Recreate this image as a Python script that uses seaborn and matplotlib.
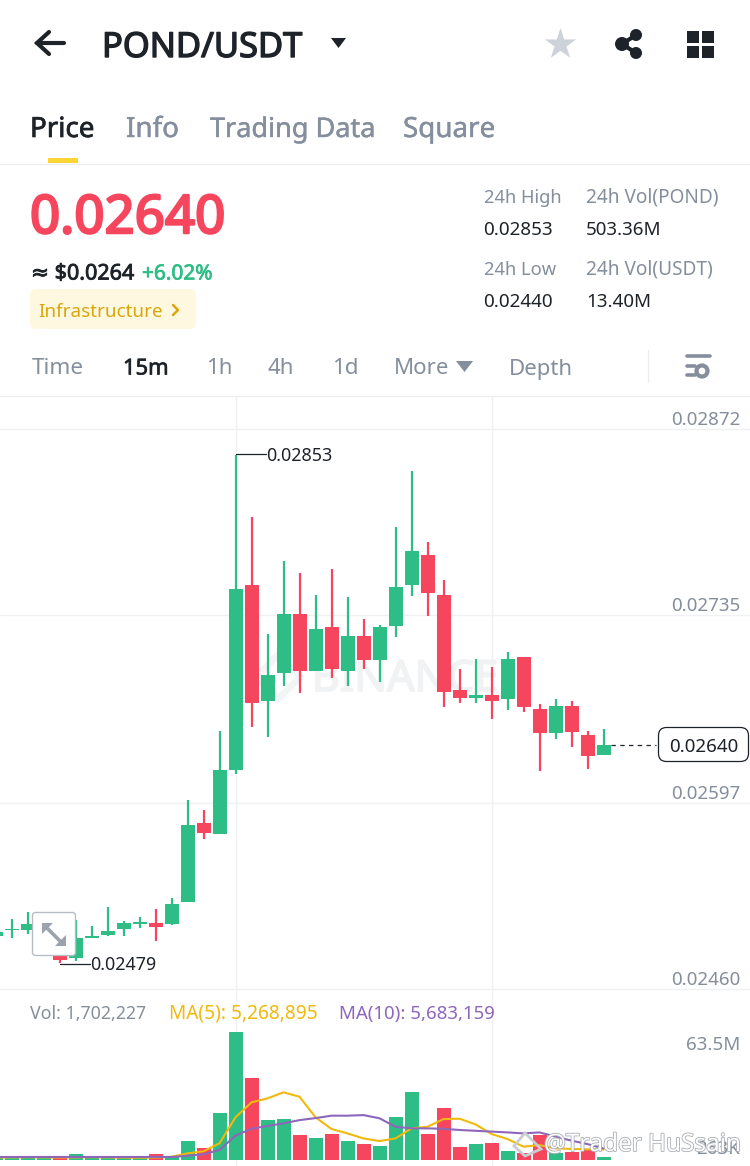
import matplotlib
matplotlib.use("Agg")
import matplotlib.pyplot as plt
import matplotlib.patheffects as pe
from matplotlib.patches import FancyBboxPatch, Polygon, Circle, Rectangle
import numpy as np
import pandas as pd
import seaborn as sns

sns.set_theme(style="white")
plt.rcParams['font.family'] = ['Noto Sans', 'DejaVu Sans']

# ---------- data ----------
opens = [0.024990,0.025034,0.025034,0.024997,0.024850,0.024830,0.024978,0.024997,0.025039,0.025080,0.025088,0.025080,
         0.025240,0.025819,0.025740,0.026209,0.027570,0.026721,0.026923,0.027361,0.026942,0.027261,0.026942,0.027199,
         0.027021,0.027271,0.027572,0.027791,0.027501,0.026800,0.026743,0.026761,0.026734,0.027040,0.026660,0.026483,
         0.026680,0.026469,0.026322]
closes = [0.025019,0.025044,0.025078,0.025071,0.024817,0.024978,0.024990,0.025027,0.025088,0.025091,0.025058,0.025225,
          0.025807,0.025750,0.026209,0.027543,0.026702,0.026910,0.027361,0.026942,0.027251,0.026954,0.027199,0.027021,
          0.027261,0.027560,0.027822,0.027513,0.026783,0.026743,0.026761,0.026721,0.027030,0.026673,0.026483,0.026680,
          0.026493,0.026312,0.026397]
highs = [0.025064,0.025115,0.025167,0.025122,0.024887,0.025108,0.025066,0.025206,0.025098,0.025128,0.025186,0.025267,
         0.025991,0.025917,0.026498,0.028530,0.028070,0.027210,0.027751,0.027661,0.027499,0.027690,0.027482,0.027322,
         0.027278,0.028001,0.028411,0.027891,0.027609,0.026952,0.027030,0.026971,0.027077,0.027040,0.026697,0.026731,
         0.026719,0.026498,0.026511]
lows = [0.024961,0.024975,0.025005,0.024924,0.024790,0.024808,0.024978,0.024990,0.024990,0.025049,0.024951,0.025069,
        0.025240,0.025701,0.025740,0.026182,0.026530,0.026452,0.026831,0.026776,0.026942,0.026890,0.026831,0.026952,
        0.026861,0.027192,0.027494,0.027344,0.026673,0.026702,0.026702,0.026584,0.026653,0.026640,0.026204,0.026442,
        0.026383,0.026221,0.026322]
volumes_m = [2.1,1.3,1.3,0.8,1.7,3.0,0.8,1.3,0.8,0.8,3.0,1.7,9.4,5.8,23.3,63.5,40.7,19.7,20.3,12.4,11.1,12.9,9.4,7.8,
             6.8,21.5,33.6,13.1,25.6,6.3,8.1,8.3,4.5,3.6,12.2,3.6,4.1,5.6,1.7]
ma5_m = [1.2,1.3,1.4,1.3,1.2,1.3,1.4,1.3,1.2,1.1,1.2,1.6,3.3,4.3,8.3,21.2,28.6,30.6,33.6,31.4,21.2,15.4,13.2,10.7,
         9.4,10.7,15.7,16.5,20.3,20.5,17.7,12.9,10.4,6.6,7.4,5.8,5.5,5.3,5.27]
ma10_m = [1.5,1.5,1.5,1.5,1.5,1.5,1.5,1.5,1.5,1.5,1.5,1.5,2.1,2.8,5.0,12.1,15.5,16.9,18.2,19.8,20.8,22.0,22.0,22.3,
          20.7,16.5,15.7,15.7,15.5,14.9,14.5,14.1,13.7,13.2,13.7,11.6,9.6,7.9,5.68]
price_ticks = [0.02872, 0.02735, 0.02597, 0.02460]
price_tick_labels = ["0.02872", "0.02735", "0.02597", "0.02460"]

GREEN, RED = "#2EBD85", "#F6465D"
GRAY, DARK = "#848E9C", "#1E2329"
GRID = "#F0F1F3"
W, H = 750, 1166

df = pd.DataFrame({"i": np.arange(len(opens)), "open": opens, "close": closes, "high": highs, "low": lows,
                   "vol": volumes_m, "ma5": ma5_m, "ma10": ma10_m})
df["dir"] = np.where(df["close"] >= df["open"], "up", "down")
pal = {"up": GREEN, "down": RED}

fig = plt.figure(figsize=(W / 100, H / 100), dpi=100, facecolor="white")


def frame(top, bottom):
    return [0, 1 - bottom / H, 1, (bottom - top) / H]


# background layer (watermark)
bg = fig.add_axes([0, 0, 1, 1], zorder=0)
bg.set_xlim(0, W); bg.set_ylim(H, 0); bg.axis("off")
bg.text(405, 680, "BINANCE", fontsize=31, color="#F1F2F3", ha="center", va="center",
        path_effects=[pe.withStroke(linewidth=1.2, foreground="#F1F2F3")])
bg.add_patch(Polygon([(278, 655), (300, 677), (278, 699), (256, 677)], closed=True, fill=False, ec="#F3F4F5", lw=5))

# x-axis: candle index mapped so that one candle takes 16 px
xlim = (0.28125, 47.15625)

# ---------- price panel ----------
ax = fig.add_axes(frame(396, 989), zorder=1)
ax.patch.set_alpha(0)
ax.set_xlim(*xlim)
ax.set_ylim(0.0246, 0.028963)
for s in ax.spines.values():
    s.set_visible(False)
ax.set_xticks([15, 31])
ax.set_yticks(price_ticks)
ax.set_xticklabels([]); ax.set_yticklabels([])
ax.tick_params(length=0)
ax.grid(True, color=GRID, lw=1)
for g in ax.get_ygridlines():
    g.set_clip_on(False)
ax.set_axisbelow(True)
for p, l in zip(price_ticks, price_tick_labels):
    ax.annotate(l, xy=(1, p), xycoords=("axes fraction", "data"), xytext=(-10, 0), textcoords="offset pixels",
                ha="right", va="bottom", color=GRAY, fontsize=13.5)

wick_colors = [pal[d] for d in df["dir"]]
ax.vlines(df["i"], df["low"], df["high"], colors=wick_colors, lw=1.6, zorder=2)
ax.bar(df["i"], (df["close"] - df["open"]).abs(), bottom=df[["open", "close"]].min(axis=1), width=0.875,
       color=wick_colors, zorder=3, linewidth=0)

# ---------- volume panel ----------
vax = fig.add_axes(frame(990, H), zorder=1)
vax.patch.set_alpha(0)
sns.barplot(data=df, x="i", y="vol", hue="dir", palette=pal, native_scale=True, dodge=False, width=0.875,
            saturation=1, legend=False, ax=vax, linewidth=0, zorder=3)
sns.lineplot(data=df, x="i", y="ma5", color="#F0B90B", lw=1.5, ax=vax, zorder=4)
sns.lineplot(data=df, x="i", y="ma10", color="#8E66BC", lw=1.5, ax=vax, zorder=5)
vax.set_xlim(*xlim)
vax.set_ylim(-2.98, 84.4)
for s in vax.spines.values():
    s.set_visible(False)
vax.set_xticks([15, 31]); vax.set_yticks([])
vax.set_xticklabels([]); vax.set_xlabel(""); vax.set_ylabel("")
vax.tick_params(length=0)
vax.xaxis.grid(True, color=GRID, lw=1)
vax.set_axisbelow(True)
vax.annotate("63.5M", xy=(1, 63.5), xycoords=("axes fraction", "data"), xytext=(-10, -13), textcoords="offset pixels",
             ha="right", va="center", color=GRAY, fontsize=13.5)
vax.annotate("263K", xy=(1, 0.26), xycoords=("axes fraction", "data"), xytext=(-10, 10), textcoords="offset pixels",
             ha="right", va="center", color=GRAY, fontsize=13.5)

# ---------- UI overlay ----------
ui = fig.add_axes([0, 0, 1, 1], zorder=5)
ui.set_xlim(0, W); ui.set_ylim(H, 0); ui.axis("off"); ui.patch.set_alpha(0)


def T(x, y, s, size=14, color=DARK, bold=0.0, ha="left", **k):
    if bold:
        k["path_effects"] = [pe.withStroke(linewidth=bold, foreground=color)]
    return ui.text(x, y + 3.5, s, fontsize=size, color=color, ha=ha, va="center", **k)


# header
ui.plot([37, 64], [43, 43], color=DARK, lw=3, solid_capstyle="round")
ui.plot([49, 37, 49], [32, 43, 54], color=DARK, lw=3, solid_capstyle="round", solid_joinstyle="miter")
T(102, 44.5, "POND/USDT", 24.8, DARK, 1.0)
ui.add_patch(Polygon([(331, 38), (346, 38), (338.5, 48)], closed=True, color=DARK, ec="none"))
ui.scatter([560], [44], marker="*", s=560, color="#CDD1D8", linewidths=0)
ui.plot([636, 622, 636], [35, 44, 53], color=DARK, lw=3)
for cx, cy, r in [(636, 35, 6), (622, 44, 7), (636, 53, 6)]:
    ui.add_patch(Circle((cx, cy), r, color=DARK, ec="none"))
for x0, y0 in [(687, 31), (702, 31), (687, 46), (702, 46)]:
    ui.add_patch(Rectangle((x0, y0), 11.5, 11.5, color=DARK, ec="none"))

# tabs
T(30, 126.5, "Price", 20, DARK, 0.5)
T(126, 126.5, "Info", 20, GRAY, 0.3)
T(210, 126.5, "Trading Data", 19.5, GRAY, 0.3)
T(403, 126.5, "Square", 20, GRAY, 0.3)
ui.add_patch(Rectangle((48, 158), 30, 5, color="#FCD535", ec="none"))
ui.plot([0, W], [163.5, 163.5], color="#EAECEF", lw=0.8)

# price block
T(30, 216, "0.02640", 38, RED, 1.8)
T(31, 270.5, "≈ $0.0264", 15.5, DARK, 0.6)
T(142, 270.5, "+6.02%", 15, GREEN, 0.5)
ui.add_patch(FancyBboxPatch((35, 294), 156, 30, boxstyle="round,pad=0,rounding_size=0", mutation_aspect=1,
                            fc="#FFF8E1", ec="#FFF8E1", lw=7, joinstyle="round"))
T(38, 308.5, "Infrastructure", 13.6, "#D8A80E")
ui.plot([173, 178, 173], [305, 310, 315], color="#D8A80E", lw=1.8)

T(484, 194.5, "24h High", 13.2, GRAY)
T(586, 194.5, "24h Vol(POND)", 13.7, GRAY)
T(483, 226.5, "0.02853", 13.6, DARK)
T(586, 226.5, "503.36M", 13.5, DARK)
T(484, 266.5, "24h Low", 13.2, GRAY)
T(586, 266.5, "24h Vol(USDT)", 13.7, GRAY)
T(483, 298.5, "0.02440", 13.6, DARK)
T(586, 298.5, "13.40M", 13.5, DARK)

# interval bar
T(32, 365.5, "Time", 16.2, GRAY)
T(123, 365.5, "15m", 15.8, DARK, 0.5)
T(206, 365.5, "1h", 16, GRAY)
T(268, 365.5, "4h", 16, GRAY)
T(332, 365.5, "1d", 16, GRAY)
T(394, 365.5, "More", 16, GRAY)
ui.add_patch(Polygon([(456, 361), (473, 361), (464.5, 372)], closed=True, color=GRAY, ec="none"))
T(509, 365.5, "Depth", 16, GRAY)
ui.plot([648, 648], [350, 382], color="#EAECEF", lw=0.8)
ui.plot([0, W], [395.5, 395.5], color="#EAECEF", lw=0.8)
ui.plot([687, 710], [356, 356], color=GRAY, lw=2.6)
ui.plot([687, 695], [366, 366], color=GRAY, lw=2.6)
ui.plot([687, 695], [375, 375], color=GRAY, lw=2.6)
ui.add_patch(Circle((702, 371), 5.5, fc="white", ec=GRAY, lw=3))

# high / low / last markers
ui.plot([235.5, 266], [454, 454], color=DARK, lw=0.9)
T(266, 452.5, "0.02853", 12.9, DARK)
ui.plot([59.5, 90], [963.5, 963.5], color=DARK, lw=0.9)
T(90, 962, "0.02479", 12.9, DARK)
ui.plot([611, 656], [744.5, 744.5], color=DARK, lw=0.9, ls=(0, (3.5, 3.5)))
ui.add_patch(FancyBboxPatch((658.5, 727.5), 90, 34, boxstyle="round,pad=0,rounding_size=8", fc="white", ec=DARK, lw=0.9))
T(704, 743, "0.02640", 13.5, DARK, ha="center")

# expand button
ui.add_patch(FancyBboxPatch((32.5, 912.5), 43, 43, boxstyle="round,pad=0,rounding_size=3", fc="white", ec="#B7BDC6", lw=1))
ui.plot([45, 62], [926, 943], color="#9CA3AF", lw=2.6)
ui.add_patch(Polygon([(42, 923), (53, 923), (42, 934)], closed=True, color="#9CA3AF", ec="none"))
ui.add_patch(Polygon([(66, 946), (55, 946), (66, 935)], closed=True, color="#9CA3AF", ec="none"))

# volume legend
T(30.5, 1010.5, "Vol: 1,702,227", 12.8, GRAY)
T(169, 1010.5, "MA(5): 5,268,895", 13.7, "#F0B90B")
T(339, 1010.5, "MA(10): 5,683,159", 13.45, "#8E66BC")

# uploader watermark
T(544, 1141.5, "@Trader HuSsain", 17.5, "white",
  path_effects=[pe.withStroke(linewidth=1.2, foreground="#A9ADB3")])
ui.add_patch(Polygon([(525, 1133), (541, 1149), (525, 1156), (514, 1146)], closed=True, fill=False, ec="#C9CCD1", lw=2))

fig.savefig("out.png", dpi=100, facecolor="white")
